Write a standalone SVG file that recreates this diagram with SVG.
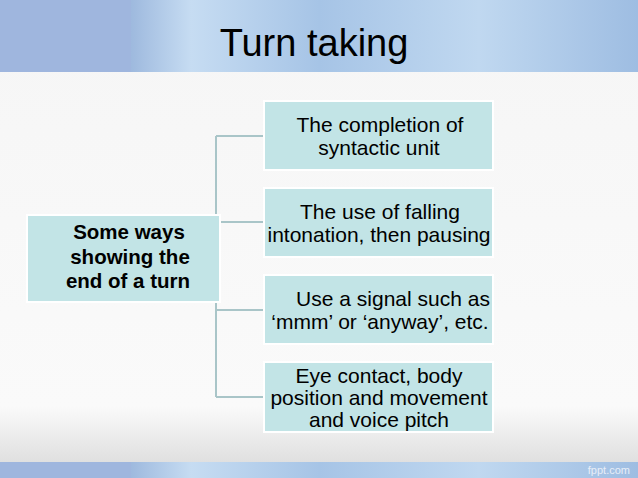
<svg xmlns="http://www.w3.org/2000/svg" width="638" height="478" viewBox="0 0 638 478">
<defs>
<linearGradient id="ban" x1="0" y1="0" x2="1" y2="0">
<stop offset="0" stop-color="#6a88c0"/><stop offset="0.12" stop-color="#7a9acc"/><stop offset="0.3" stop-color="#c6dcf2"/><stop offset="0.5" stop-color="#a6c4e6"/><stop offset="0.75" stop-color="#c0d8f0"/><stop offset="1" stop-color="#9ebde2"/>
</linearGradient>
<linearGradient id="bg" x1="0" y1="0" x2="0" y2="1">
<stop offset="0" stop-color="#dcdcdc"/><stop offset="0.08" stop-color="#f6f6f6"/><stop offset="0.85" stop-color="#fafafa"/><stop offset="1" stop-color="#d8d8d8"/>
</linearGradient>
<style>
.box{fill:#c2e4e6;stroke:#ffffff;stroke-width:2}
.t{font-family:"Liberation Sans",Arial,sans-serif;font-size:21px;fill:#000;text-anchor:middle}
.b{font-weight:bold;font-size:20.5px}
.c{stroke:#a9c5c8;stroke-width:2;fill:none}
</style>
</defs>
<rect width="638" height="478" fill="url(#bg)"/>
<rect x="0" y="0" width="638" height="72" fill="url(#ban)"/>
<rect x="0" y="0" width="131" height="72" fill="#9fb6de"/>
<rect x="0" y="462" width="638" height="16" fill="url(#ban)"/>
<rect x="0" y="462" width="131" height="16" fill="#9fb6de"/>
<text x="314" y="56" font-family="Liberation Sans,Arial,sans-serif" font-size="38" text-anchor="middle">Turn taking</text>
<text x="630" y="474" font-family="Liberation Sans,Arial,sans-serif" font-size="11" fill="#e8eef8" text-anchor="end">fppt.com</text>
<g id="connectors">
<path class="c" d="M216 136V397M216 136H264M216 222H264M216 310H264M216 397H264"/>
</g>
<g id="n0"><rect class="box" x="27" y="215" width="193" height="87"/>
<text class="t b" x="129" y="239">Some ways</text><text class="t b" x="130" y="264">showing the</text><text class="t b" x="128" y="288">end of a turn</text></g>
<g id="n1"><rect class="box" x="264" y="101" width="229" height="69"/>
<text class="t" x="380" y="132">The completion of</text><text class="t" x="379" y="155">syntactic unit</text></g>
<g id="n2"><rect class="box" x="264" y="188" width="229" height="69"/>
<text class="t" x="380" y="219">The use of falling</text><text class="t" x="379" y="242">intonation, then pausing</text></g>
<g id="n3"><rect class="box" x="264" y="275" width="229" height="69"/>
<text class="t" x="393" y="306">Use a signal such as</text><text class="t" x="380" y="329">‘mmm’ or ‘anyway’, etc.</text></g>
<g id="n4"><rect class="box" x="264" y="362" width="229" height="70"/>
<text class="t" x="379" y="383">Eye contact, body</text><text class="t" x="379" y="405">position and movement</text><text class="t" x="379" y="427">and voice pitch</text></g>
</svg>
